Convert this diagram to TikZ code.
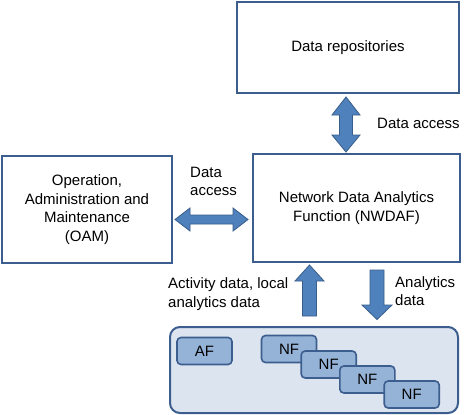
\documentclass[tikz,border=0pt]{standalone}
\usepackage{fontspec}
\setmainfont{Liberation Sans}
\definecolor{boxblue}{HTML}{3C5E8E}
\definecolor{arrowblue}{HTML}{4F81BD}
\definecolor{arrowedge}{HTML}{385D8A}
\definecolor{contfill}{HTML}{DCE4F0}
\definecolor{smallfill}{HTML}{95B3D7}
\begin{document}
\begin{tikzpicture}[x=1pt,y=-1pt,
  font=\fontsize{15}{18.7}\selectfont,
  bigbox/.style={draw=boxblue, line width=2.4pt, fill=white, inner sep=0pt, align=center},
  blockarrow/.style={fill=arrowblue, draw=arrowedge, line width=0.8pt, line join=miter},
  container/.style={draw=boxblue, fill=contfill, line width=2pt, rounded corners=10pt, inner sep=0pt},
  smallbox/.style={draw=boxblue, fill=smallfill, line width=1.6pt, rounded corners=4pt, minimum width=55pt, minimum height=27pt, inner sep=0pt},
  lbl/.style={align=left, inner sep=0pt}]
\useasboundingbox (0,0) rectangle (474,415);

% main boxes
\node[bigbox, minimum width=222pt, minimum height=91pt] (repo) at (348,47.5) {Data repositories};
\node[bigbox, minimum width=207pt, minimum height=108pt] (nwdaf) at (356.5,208) {Network Data Analytics\\Function (NWDAF)};
\node[bigbox, minimum width=170pt, minimum height=107pt] (oam) at (87,209.5) {Operation,\\Administration and\\Maintenance\\(OAM)};

% bottom container
\node[container, minimum width=288pt, minimum height=86pt] (cont) at (314,370) {};
\node[smallbox] (af) at (204.5,351) {AF};
\node[smallbox] (nf1) at (289,349) {NF};
\node[smallbox] (nf2) at (328.7,364.5) {NF};
\node[smallbox] (nf3) at (367.3,379.5) {NF};
\node[smallbox] (nf4) at (411.7,394.5) {NF};

% vertical double arrow (repo <-> nwdaf)
\draw[blockarrow] (346,97) -- (360,115) -- (352.5,115) -- (352.5,135) -- (360,135) -- (346,152)
  -- (332,135) -- (339.5,135) -- (339.5,115) -- (332,115) -- cycle;
% horizontal double arrow (oam <-> nwdaf)
\draw[blockarrow] (175,219.5) -- (190,208) -- (190,215) -- (233,215) -- (233,208) -- (248,219.5)
  -- (233,231) -- (233,224) -- (190,224) -- (190,231) -- cycle;
% up arrow
\draw[blockarrow] (309.5,265) -- (324,281) -- (316.5,281) -- (316.5,316) -- (302.5,316) -- (302.5,281) -- (295,281) -- cycle;
% down arrow
\draw[blockarrow] (370,270) -- (384,270) -- (384,305) -- (392,305) -- (377,319.5) -- (362,305) -- (370,305) -- cycle;

% labels
\node[lbl, anchor=west] (lrepo) at (377,123) {Data access};
\node[lbl, anchor=west] (loam) at (190,181.5) {Data\\access};
\node[lbl, anchor=west] (lact) at (168,294) {Activity data, local\\analytics data};
\node[lbl, anchor=west] (lana) at (395,291) {Analytics\\data};
\end{tikzpicture}
\end{document}
